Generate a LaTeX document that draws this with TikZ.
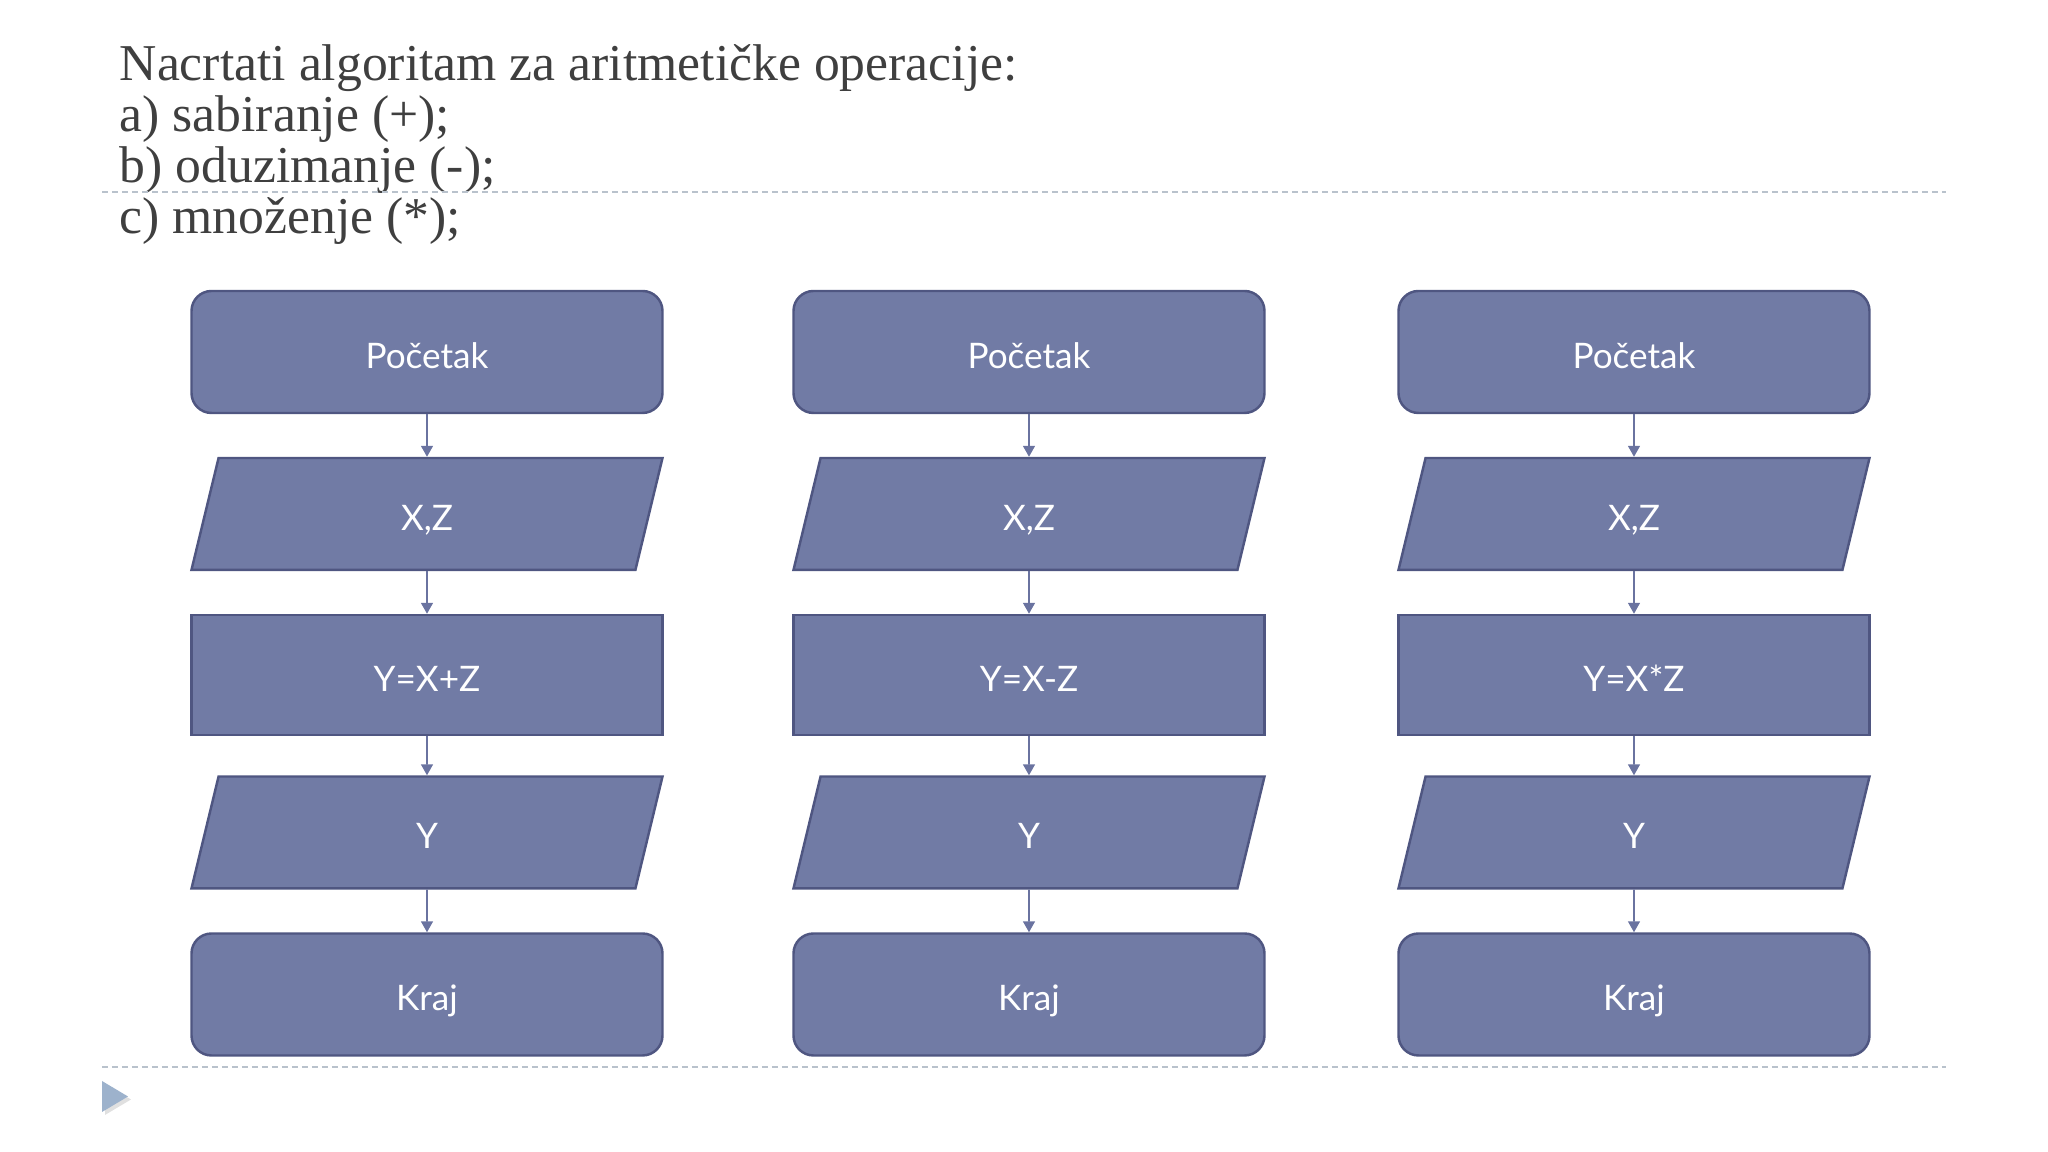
\documentclass[tikz,border=0pt]{standalone}
\usepackage{fontspec}
\setmainfont{Liberation Serif}
\newfontfamily\boxfont{Lato}
\usetikzlibrary{shapes.geometric,arrows.meta}

\definecolor{boxfill}{HTML}{717BA5}
\definecolor{boxline}{HTML}{4F5681}
\definecolor{arrowcol}{HTML}{6A73A0}
\definecolor{guidecol}{HTML}{B9C2CC}
\definecolor{titlecol}{HTML}{3F3F3F}
\definecolor{markcol}{HTML}{9DB2CC}

\tikzset{
  flowbox/.style={draw=boxline, line width=0.7pt, fill=boxfill, text=white,
    font=\boxfont\fontsize{10}{12}\selectfont, minimum width=4.71cm, inner sep=0pt,
    text height=0.92em, text depth=0pt},
  terminal/.style={flowbox, rectangle, rounded corners=0.2cm, minimum height=1.22cm},
  process/.style={flowbox, rectangle, minimum height=1.2cm},
  inout/.style={flowbox, trapezium, trapezium left angle=76.4, trapezium right angle=103.6,
    trapezium stretches body=true, inner ysep=0.398cm},
  flowarrow/.style={draw=arrowcol, line width=0.45pt, -{Triangle[length=0.11cm,width=0.12cm]}},
  tasktext/.style={anchor=base west, inner sep=0pt, text=titlecol,
    font=\fontsize{14.7}{17}\selectfont},
  guide/.style={draw=guidecol, line width=0.4pt, dash pattern=on 0.06cm off 0.04cm},
}

\begin{document}
\begin{tikzpicture}
  % slide area
  \useasboundingbox (0,0) rectangle (20.48,11.52);

  % task text
  \node[tasktext] (task) at (1.19,10.71) {Nacrtati algoritam za aritmetičke operacije:};
  \node[tasktext] (opa)  at (1.19,10.20) {a) sabiranje (+);};
  \node[tasktext] (opb)  at (1.19,9.69)  {b) oduzimanje (-);};
  \node[tasktext] (opc)  at (1.19,9.18)  {c) množenje (*);};

  % dashed guide lines
  \draw[guide] (1.02,9.60) -- (19.46,9.60);
  \draw[guide] (1.02,0.85) -- (19.46,0.85);

  % bullet marker (with a soft shadow)
  \fill[black,opacity=0.12] (1.05,0.68) -- (1.05,0.37) -- (1.31,0.525) -- cycle;
  \fill[markcol] (1.02,0.71) -- (1.02,0.40) -- (1.28,0.555) -- cycle;

  % row heights
  \def\ya{8.00}
  \def\yb{6.38}
  \def\yc{4.77}
  \def\yd{3.195}
  \def\ye{1.575}

  % a) sabiranje
  \node[terminal] (a1) at (4.27,\ya) {Početak};
  \node[inout]    (a2) at (4.27,\yb) {X,Z};
  \node[process]  (a3) at (4.27,\yc) {Y=X+Z};
  \node[inout]    (a4) at (4.27,\yd) {Y};
  \node[terminal] (a5) at (4.27,\ye) {Kraj};

  % b) oduzimanje
  \node[terminal] (b1) at (10.29,\ya) {Početak};
  \node[inout]    (b2) at (10.29,\yb) {X,Z};
  \node[process]  (b3) at (10.29,\yc) {Y=X-Z};
  \node[inout]    (b4) at (10.29,\yd) {Y};
  \node[terminal] (b5) at (10.29,\ye) {Kraj};

  % c) mnozenje
  \node[terminal] (c1) at (16.34,\ya) {Početak};
  \node[inout]    (c2) at (16.34,\yb) {X,Z};
  \node[process]  (c3) at (16.34,\yc) {Y=X*Z};
  \node[inout]    (c4) at (16.34,\yd) {Y};
  \node[terminal] (c5) at (16.34,\ye) {Kraj};

  % arrows
  \draw[flowarrow] (a1) -- (a2);
  \draw[flowarrow] (a2) -- (a3);
  \draw[flowarrow] (a3) -- (a4);
  \draw[flowarrow] (a4) -- (a5);
  \draw[flowarrow] (b1) -- (b2);
  \draw[flowarrow] (b2) -- (b3);
  \draw[flowarrow] (b3) -- (b4);
  \draw[flowarrow] (b4) -- (b5);
  \draw[flowarrow] (c1) -- (c2);
  \draw[flowarrow] (c2) -- (c3);
  \draw[flowarrow] (c3) -- (c4);
  \draw[flowarrow] (c4) -- (c5);
\end{tikzpicture}
\end{document}
